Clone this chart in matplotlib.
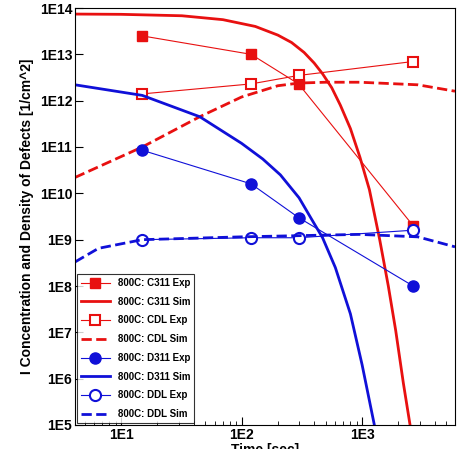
import matplotlib
matplotlib.use("Agg")
import matplotlib.pyplot as plt
import numpy as np

plt.rcParams['font.family'] = ['Liberation Sans', 'DejaVu Sans']
plt.rcParams['font.weight'] = 'bold'

t_exp = [15, 120, 297, 2650]
c311_exp = [2.5e13, 1.0e13, 2.3e12, 2e9]
cdl_exp = [1.4e12, 2.3e12, 3.5e12, 7e12]
d311_exp = [8.5e10, 1.6e10, 3e9, 1e8]
ddl_exp = [1.0e9, 1.1e9, 1.1e9, 1.6e9]

c311_t = [4.15, 10, 32, 70, 130, 200, 260, 330, 400, 470, 560, 660, 800, 960, 1150, 1400, 1650, 1900, 2200, 2500]
c311_sim = [7.4e13, 7.3e13, 6.8e13, 5.6e13, 4.0e13, 2.6e13, 1.8e13, 1.1e13, 6.5e12, 3.8e12, 1.9e12, 8e11, 2.5e11, 6e10, 1.2e10, 1e9, 1e8, 1.1e7, 8e5, 1e5]
cdl_t = [4.15, 15, 45, 100, 200, 300, 500, 950, 2900, 5900]
cdl_sim = [2.2e10, 1.0e11, 4.5e11, 1.2e12, 2.1e12, 2.4e12, 2.5e12, 2.5e12, 2.2e12, 1.6e12]
d311_t = [4.15, 15, 45, 100, 150, 210, 300, 380, 470, 600, 800, 1000, 1300, 1500, 1700]
d311_sim = [2.2e12, 1.3e12, 4.5e11, 1.2e11, 5.5e10, 2.5e10, 8e9, 2.8e9, 1.1e9, 2.5e8, 2.5e7, 2e6, 7e4, 1.5e4, 1e4]
ddl_t = [4.15, 6.5, 15, 100, 950, 2900, 5900]
ddl_sim = [3.3e8, 6.5e8, 1.0e9, 1.15e9, 1.3e9, 1.15e9, 7e8]

fig = plt.figure(figsize=(4.61, 4.49), dpi=100)
ax = fig.add_axes([75/461, 24/449, 380/461, 417/449])
red = '#e81010'; blue = '#1010d8'
ax.plot(t_exp, c311_exp, '-s', color=red, lw=0.8, ms=7, label='800C: C311 Exp')
ax.plot(c311_t, c311_sim, '-', color=red, lw=2, label='800C: C311 Sim')
ax.plot(t_exp, cdl_exp, '-s', color=red, lw=0.8, ms=7, mfc='white', mew=1.5, label='800C: CDL Exp')
ax.plot(cdl_t, cdl_sim, '--', color=red, lw=2, label='800C: CDL Sim')
ax.plot(t_exp, d311_exp, '-o', color=blue, lw=0.8, ms=8, label='800C: D311 Exp')
ax.plot(d311_t, d311_sim, '-', color=blue, lw=2, label='800C: D311 Sim')
ax.plot(t_exp, ddl_exp, '-o', color=blue, lw=0.8, ms=8, mfc='white', mew=1.5, label='800C: DDL Exp')
ax.plot(ddl_t, ddl_sim, '--', color=blue, lw=2, label='800C: DDL Sim')

ax.set_xscale('log'); ax.set_yscale('log')
ax.set_xlim(4.15, 5900); ax.set_ylim(1e5, 1e14)
ax.set_xticks([10, 100, 1000]); ax.set_xticklabels(['1E1', '1E2', '1E3'])
yt = [10.0**k for k in range(5, 15)]
ax.set_yticks(yt); ax.set_yticklabels([f'1E{k}' for k in range(5, 15)])
ax.tick_params(which='both', direction='in', labelsize=10, pad=2)
ax.tick_params(which='major', length=6)
ax.tick_params(which='minor', length=3)
ax.set_xlabel('Time [sec]', fontsize=10, fontweight='bold', labelpad=1)
ax.set_ylabel('I Concentration and Density of Defects [1/cm^2]', fontsize=10, fontweight='bold')
leg = ax.legend(loc='lower left', fontsize=7, frameon=True, fancybox=False, edgecolor='black',
                handlelength=3, borderaxespad=0.2, labelspacing=0.9)
leg.get_frame().set_linewidth(0.8)
fig.savefig('out.png', dpi=100)
